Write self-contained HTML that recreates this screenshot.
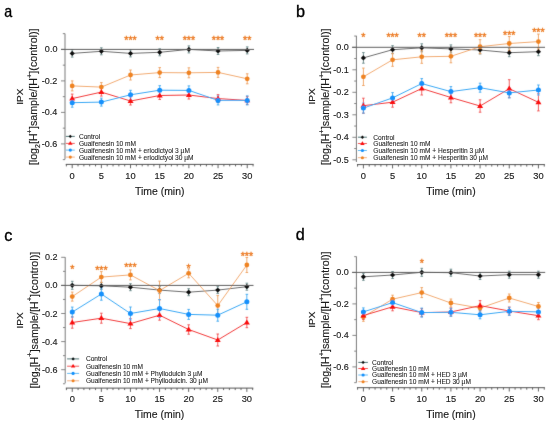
<!DOCTYPE html>
<html><head><meta charset="utf-8"><title>IPX</title>
<style>
html,body{margin:0;padding:0;background:#fff;}
body{width:550px;height:425px;overflow:hidden;}
svg{display:block;font-family:"Liberation Sans", sans-serif;}
#w{width:550px;height:425px;will-change:transform;}
.t{stroke:#1c1c1c;stroke-width:0.15px;}
</style></head><body><div id="w">
<svg width="550" height="425" viewBox="0 0 550 425">
<defs><filter id="bl" x="0" y="0" width="550" height="425" filterUnits="userSpaceOnUse"><feConvolveMatrix order="3" kernelMatrix="1 10 1 10 100 10 1 10 1" edgeMode="none"/></filter></defs>
<rect width="550" height="425" fill="#fff"/>
<g filter="url(#bl)">
<line x1="65" y1="33.6" x2="65" y2="159.4" stroke="#7a7a7a" stroke-width="1"/>
<line x1="62.8" y1="33.65" x2="65" y2="33.65" stroke="#7a7a7a" stroke-width="0.9"/>
<line x1="61" y1="49.4" x2="65" y2="49.4" stroke="#7a7a7a" stroke-width="0.9"/>
<line x1="62.8" y1="65.15" x2="65" y2="65.15" stroke="#7a7a7a" stroke-width="0.9"/>
<line x1="61" y1="80.9" x2="65" y2="80.9" stroke="#7a7a7a" stroke-width="0.9"/>
<line x1="62.8" y1="96.65" x2="65" y2="96.65" stroke="#7a7a7a" stroke-width="0.9"/>
<line x1="61" y1="112.4" x2="65" y2="112.4" stroke="#7a7a7a" stroke-width="0.9"/>
<line x1="62.8" y1="128.15" x2="65" y2="128.15" stroke="#7a7a7a" stroke-width="0.9"/>
<line x1="61" y1="143.9" x2="65" y2="143.9" stroke="#7a7a7a" stroke-width="0.9"/>
<line x1="62.8" y1="159.65" x2="65" y2="159.65" stroke="#7a7a7a" stroke-width="0.9"/>
<line x1="65.78" y1="164.4" x2="253.64" y2="164.4" stroke="#555555" stroke-width="1"/>
<line x1="66.37" y1="164.4" x2="66.37" y2="166.4" stroke="#555555" stroke-width="0.9"/>
<line x1="72.2" y1="164.4" x2="72.2" y2="168.2" stroke="#555555" stroke-width="0.9"/>
<line x1="78.03" y1="164.4" x2="78.03" y2="166.4" stroke="#555555" stroke-width="0.9"/>
<line x1="83.87" y1="164.4" x2="83.87" y2="166.4" stroke="#555555" stroke-width="0.9"/>
<line x1="89.7" y1="164.4" x2="89.7" y2="166.4" stroke="#555555" stroke-width="0.9"/>
<line x1="95.54" y1="164.4" x2="95.54" y2="166.4" stroke="#555555" stroke-width="0.9"/>
<line x1="101.37" y1="164.4" x2="101.37" y2="168.2" stroke="#555555" stroke-width="0.9"/>
<line x1="107.2" y1="164.4" x2="107.2" y2="166.4" stroke="#555555" stroke-width="0.9"/>
<line x1="113.04" y1="164.4" x2="113.04" y2="166.4" stroke="#555555" stroke-width="0.9"/>
<line x1="118.87" y1="164.4" x2="118.87" y2="166.4" stroke="#555555" stroke-width="0.9"/>
<line x1="124.71" y1="164.4" x2="124.71" y2="166.4" stroke="#555555" stroke-width="0.9"/>
<line x1="130.54" y1="164.4" x2="130.54" y2="168.2" stroke="#555555" stroke-width="0.9"/>
<line x1="136.37" y1="164.4" x2="136.37" y2="166.4" stroke="#555555" stroke-width="0.9"/>
<line x1="142.21" y1="164.4" x2="142.21" y2="166.4" stroke="#555555" stroke-width="0.9"/>
<line x1="148.04" y1="164.4" x2="148.04" y2="166.4" stroke="#555555" stroke-width="0.9"/>
<line x1="153.88" y1="164.4" x2="153.88" y2="166.4" stroke="#555555" stroke-width="0.9"/>
<line x1="159.71" y1="164.4" x2="159.71" y2="168.2" stroke="#555555" stroke-width="0.9"/>
<line x1="165.54" y1="164.4" x2="165.54" y2="166.4" stroke="#555555" stroke-width="0.9"/>
<line x1="171.38" y1="164.4" x2="171.38" y2="166.4" stroke="#555555" stroke-width="0.9"/>
<line x1="177.21" y1="164.4" x2="177.21" y2="166.4" stroke="#555555" stroke-width="0.9"/>
<line x1="183.05" y1="164.4" x2="183.05" y2="166.4" stroke="#555555" stroke-width="0.9"/>
<line x1="188.88" y1="164.4" x2="188.88" y2="168.2" stroke="#555555" stroke-width="0.9"/>
<line x1="194.71" y1="164.4" x2="194.71" y2="166.4" stroke="#555555" stroke-width="0.9"/>
<line x1="200.55" y1="164.4" x2="200.55" y2="166.4" stroke="#555555" stroke-width="0.9"/>
<line x1="206.38" y1="164.4" x2="206.38" y2="166.4" stroke="#555555" stroke-width="0.9"/>
<line x1="212.22" y1="164.4" x2="212.22" y2="166.4" stroke="#555555" stroke-width="0.9"/>
<line x1="218.05" y1="164.4" x2="218.05" y2="168.2" stroke="#555555" stroke-width="0.9"/>
<line x1="223.88" y1="164.4" x2="223.88" y2="166.4" stroke="#555555" stroke-width="0.9"/>
<line x1="229.72" y1="164.4" x2="229.72" y2="166.4" stroke="#555555" stroke-width="0.9"/>
<line x1="235.55" y1="164.4" x2="235.55" y2="166.4" stroke="#555555" stroke-width="0.9"/>
<line x1="241.39" y1="164.4" x2="241.39" y2="166.4" stroke="#555555" stroke-width="0.9"/>
<line x1="247.22" y1="164.4" x2="247.22" y2="168.2" stroke="#555555" stroke-width="0.9"/>
<line x1="253.05" y1="164.4" x2="253.05" y2="166.4" stroke="#555555" stroke-width="0.9"/>
<line x1="65.8" y1="136.4" x2="74.8" y2="136.4" stroke="#3e6868" stroke-width="0.9"/>
<path d="M70.3 134.71L71.99 136.4L70.3 138.09L68.61 136.4Z" fill="#111111"/>
<line x1="65.8" y1="143.4" x2="74.8" y2="143.4" stroke="#f04848" stroke-width="0.9"/>
<path d="M70.3 141.08L72.55 144.83L68.05 144.83Z" fill="#fa1010"/>
<line x1="65.8" y1="150.1" x2="74.8" y2="150.1" stroke="#55b4f2" stroke-width="0.9"/>
<circle cx="70.3" cy="150.1" r="1.62" fill="#1290fc"/>
<line x1="65.8" y1="157.1" x2="74.8" y2="157.1" stroke="#f0aa78" stroke-width="0.9"/>
<circle cx="70.3" cy="157.1" r="1.56" fill="#ef8322"/>
<polyline points="72.2,53.4 101.37,51.3 130.54,53.4 159.71,52.3 188.88,49.4 218.05,51 247.22,50.4" fill="none" stroke="#6e6e6e" stroke-width="1"/>
<polyline points="72.2,85.9 101.37,87.1 130.54,75 159.71,72.6 188.88,72.8 218.05,72.4 247.22,78.8" fill="none" stroke="#f2ac74" stroke-width="1"/>
<polyline points="72.2,98.6 101.37,92.1 130.54,101 159.71,95.5 188.88,95 218.05,98.6 247.22,100.4" fill="none" stroke="#f23a3a" stroke-width="1"/>
<polyline points="72.2,102.7 101.37,102.1 130.54,94.8 159.71,90.2 188.88,90.4 218.05,100.4 247.22,100.4" fill="none" stroke="#3aa8f5" stroke-width="1"/>
<path d="M72.2 49.7V57.1M70.9 49.7H73.5M70.9 57.1H73.5" stroke="#6a8a8a" stroke-width="0.9" fill="none"/>
<path d="M101.37 47.8V54.8M100.07 47.8H102.67M100.07 54.8H102.67" stroke="#6a8a8a" stroke-width="0.9" fill="none"/>
<path d="M130.54 49.9V56.9M129.24 49.9H131.84M129.24 56.9H131.84" stroke="#6a8a8a" stroke-width="0.9" fill="none"/>
<path d="M159.71 48.8V55.8M158.41 48.8H161.01M158.41 55.8H161.01" stroke="#6a8a8a" stroke-width="0.9" fill="none"/>
<path d="M188.88 45.9V52.9M187.58 45.9H190.18M187.58 52.9H190.18" stroke="#6a8a8a" stroke-width="0.9" fill="none"/>
<path d="M218.05 47.5V54.5M216.75 47.5H219.35M216.75 54.5H219.35" stroke="#6a8a8a" stroke-width="0.9" fill="none"/>
<path d="M247.22 46.9V53.9M245.92 46.9H248.52M245.92 53.9H248.52" stroke="#6a8a8a" stroke-width="0.9" fill="none"/>
<path d="M72.2 80.9V90.9M70.9 80.9H73.5M70.9 90.9H73.5" stroke="#eea060" stroke-width="0.9" fill="none"/>
<path d="M101.37 82.6V91.6M100.07 82.6H102.67M100.07 91.6H102.67" stroke="#eea060" stroke-width="0.9" fill="none"/>
<path d="M130.54 70V80M129.24 70H131.84M129.24 80H131.84" stroke="#eea060" stroke-width="0.9" fill="none"/>
<path d="M159.71 67.6V77.6M158.41 67.6H161.01M158.41 77.6H161.01" stroke="#eea060" stroke-width="0.9" fill="none"/>
<path d="M188.88 67.8V77.8M187.58 67.8H190.18M187.58 77.8H190.18" stroke="#eea060" stroke-width="0.9" fill="none"/>
<path d="M218.05 67.4V77.4M216.75 67.4H219.35M216.75 77.4H219.35" stroke="#eea060" stroke-width="0.9" fill="none"/>
<path d="M247.22 73.8V83.8M245.92 73.8H248.52M245.92 83.8H248.52" stroke="#eea060" stroke-width="0.9" fill="none"/>
<path d="M72.2 94.1V103.1M70.9 94.1H73.5M70.9 103.1H73.5" stroke="#f05050" stroke-width="0.9" fill="none"/>
<path d="M101.37 88.1V96.1M100.07 88.1H102.67M100.07 96.1H102.67" stroke="#f05050" stroke-width="0.9" fill="none"/>
<path d="M130.54 97V105M129.24 97H131.84M129.24 105H131.84" stroke="#f05050" stroke-width="0.9" fill="none"/>
<path d="M159.71 91.5V99.5M158.41 91.5H161.01M158.41 99.5H161.01" stroke="#f05050" stroke-width="0.9" fill="none"/>
<path d="M188.88 91V99M187.58 91H190.18M187.58 99H190.18" stroke="#f05050" stroke-width="0.9" fill="none"/>
<path d="M218.05 94.6V102.6M216.75 94.6H219.35M216.75 102.6H219.35" stroke="#f05050" stroke-width="0.9" fill="none"/>
<path d="M247.22 96.4V104.4M245.92 96.4H248.52M245.92 104.4H248.52" stroke="#f05050" stroke-width="0.9" fill="none"/>
<path d="M72.2 98.2V107.2M70.9 98.2H73.5M70.9 107.2H73.5" stroke="#40a8f0" stroke-width="0.9" fill="none"/>
<path d="M101.37 98.1V106.1M100.07 98.1H102.67M100.07 106.1H102.67" stroke="#40a8f0" stroke-width="0.9" fill="none"/>
<path d="M130.54 90.3V99.3M129.24 90.3H131.84M129.24 99.3H131.84" stroke="#40a8f0" stroke-width="0.9" fill="none"/>
<path d="M159.71 85.7V94.7M158.41 85.7H161.01M158.41 94.7H161.01" stroke="#40a8f0" stroke-width="0.9" fill="none"/>
<path d="M188.88 85.9V94.9M187.58 85.9H190.18M187.58 94.9H190.18" stroke="#40a8f0" stroke-width="0.9" fill="none"/>
<path d="M218.05 95.9V104.9M216.75 95.9H219.35M216.75 104.9H219.35" stroke="#40a8f0" stroke-width="0.9" fill="none"/>
<path d="M247.22 95.9V104.9M245.92 95.9H248.52M245.92 104.9H248.52" stroke="#40a8f0" stroke-width="0.9" fill="none"/>
<path d="M72.2 50.8L74.8 53.4L72.2 56L69.6 53.4Z" fill="#111111"/>
<path d="M101.37 48.7L103.97 51.3L101.37 53.9L98.77 51.3Z" fill="#111111"/>
<path d="M130.54 50.8L133.14 53.4L130.54 56L127.94 53.4Z" fill="#111111"/>
<path d="M159.71 49.7L162.31 52.3L159.71 54.9L157.11 52.3Z" fill="#111111"/>
<path d="M188.88 46.8L191.48 49.4L188.88 52L186.28 49.4Z" fill="#111111"/>
<path d="M218.05 48.4L220.65 51L218.05 53.6L215.45 51Z" fill="#111111"/>
<path d="M247.22 47.8L249.82 50.4L247.22 53L244.62 50.4Z" fill="#111111"/>
<circle cx="72.2" cy="85.9" r="2.4" fill="#ef8322"/>
<circle cx="101.37" cy="87.1" r="2.4" fill="#ef8322"/>
<circle cx="130.54" cy="75" r="2.4" fill="#ef8322"/>
<circle cx="159.71" cy="72.6" r="2.4" fill="#ef8322"/>
<circle cx="188.88" cy="72.8" r="2.4" fill="#ef8322"/>
<circle cx="218.05" cy="72.4" r="2.4" fill="#ef8322"/>
<circle cx="247.22" cy="78.8" r="2.4" fill="#ef8322"/>
<path d="M72.2 95.5L75.2 100.5L69.2 100.5Z" fill="#fa1010"/>
<path d="M101.37 89L104.37 94L98.37 94Z" fill="#fa1010"/>
<path d="M130.54 97.9L133.54 102.9L127.54 102.9Z" fill="#fa1010"/>
<path d="M159.71 92.4L162.71 97.4L156.71 97.4Z" fill="#fa1010"/>
<path d="M188.88 91.9L191.88 96.9L185.88 96.9Z" fill="#fa1010"/>
<path d="M218.05 95.5L221.05 100.5L215.05 100.5Z" fill="#fa1010"/>
<path d="M247.22 97.3L250.22 102.3L244.22 102.3Z" fill="#fa1010"/>
<circle cx="72.2" cy="102.7" r="2.5" fill="#1290fc"/>
<circle cx="101.37" cy="102.1" r="2.5" fill="#1290fc"/>
<circle cx="130.54" cy="94.8" r="2.5" fill="#1290fc"/>
<circle cx="159.71" cy="90.2" r="2.5" fill="#1290fc"/>
<circle cx="188.88" cy="90.4" r="2.5" fill="#1290fc"/>
<circle cx="218.05" cy="100.4" r="2.5" fill="#1290fc"/>
<circle cx="247.22" cy="100.4" r="2.5" fill="#1290fc"/>
<line x1="61" y1="49.4" x2="254" y2="49.4" stroke="#5e5e5e" stroke-width="1"/>
<text x="130.54" y="44.1" font-size="10.6" fill="#ec7a22" stroke="#ec7a22" stroke-width="0.35" text-anchor="middle">***</text>
<text x="159.71" y="44.1" font-size="10.6" fill="#ec7a22" stroke="#ec7a22" stroke-width="0.35" text-anchor="middle">**</text>
<text x="188.88" y="44.1" font-size="10.6" fill="#ec7a22" stroke="#ec7a22" stroke-width="0.35" text-anchor="middle">***</text>
<text x="218.05" y="44.1" font-size="10.6" fill="#ec7a22" stroke="#ec7a22" stroke-width="0.35" text-anchor="middle">***</text>
<text x="247.22" y="44.1" font-size="10.6" fill="#ec7a22" stroke="#ec7a22" stroke-width="0.35" text-anchor="middle">**</text>
<line x1="356.4" y1="35.8" x2="356.4" y2="162" stroke="#7a7a7a" stroke-width="1"/>
<line x1="354.2" y1="36.05" x2="356.4" y2="36.05" stroke="#7a7a7a" stroke-width="0.9"/>
<line x1="352.4" y1="47.3" x2="356.4" y2="47.3" stroke="#7a7a7a" stroke-width="0.9"/>
<line x1="354.2" y1="58.55" x2="356.4" y2="58.55" stroke="#7a7a7a" stroke-width="0.9"/>
<line x1="352.4" y1="69.8" x2="356.4" y2="69.8" stroke="#7a7a7a" stroke-width="0.9"/>
<line x1="354.2" y1="81.05" x2="356.4" y2="81.05" stroke="#7a7a7a" stroke-width="0.9"/>
<line x1="352.4" y1="92.3" x2="356.4" y2="92.3" stroke="#7a7a7a" stroke-width="0.9"/>
<line x1="354.2" y1="103.55" x2="356.4" y2="103.55" stroke="#7a7a7a" stroke-width="0.9"/>
<line x1="352.4" y1="114.8" x2="356.4" y2="114.8" stroke="#7a7a7a" stroke-width="0.9"/>
<line x1="354.2" y1="126.05" x2="356.4" y2="126.05" stroke="#7a7a7a" stroke-width="0.9"/>
<line x1="352.4" y1="137.3" x2="356.4" y2="137.3" stroke="#7a7a7a" stroke-width="0.9"/>
<line x1="354.2" y1="148.55" x2="356.4" y2="148.55" stroke="#7a7a7a" stroke-width="0.9"/>
<line x1="352.4" y1="159.8" x2="356.4" y2="159.8" stroke="#7a7a7a" stroke-width="0.9"/>
<line x1="356.98" y1="164.6" x2="544.84" y2="164.6" stroke="#555555" stroke-width="1"/>
<line x1="357.57" y1="164.6" x2="357.57" y2="166.6" stroke="#555555" stroke-width="0.9"/>
<line x1="363.4" y1="164.6" x2="363.4" y2="168.4" stroke="#555555" stroke-width="0.9"/>
<line x1="369.23" y1="164.6" x2="369.23" y2="166.6" stroke="#555555" stroke-width="0.9"/>
<line x1="375.07" y1="164.6" x2="375.07" y2="166.6" stroke="#555555" stroke-width="0.9"/>
<line x1="380.9" y1="164.6" x2="380.9" y2="166.6" stroke="#555555" stroke-width="0.9"/>
<line x1="386.74" y1="164.6" x2="386.74" y2="166.6" stroke="#555555" stroke-width="0.9"/>
<line x1="392.57" y1="164.6" x2="392.57" y2="168.4" stroke="#555555" stroke-width="0.9"/>
<line x1="398.4" y1="164.6" x2="398.4" y2="166.6" stroke="#555555" stroke-width="0.9"/>
<line x1="404.24" y1="164.6" x2="404.24" y2="166.6" stroke="#555555" stroke-width="0.9"/>
<line x1="410.07" y1="164.6" x2="410.07" y2="166.6" stroke="#555555" stroke-width="0.9"/>
<line x1="415.91" y1="164.6" x2="415.91" y2="166.6" stroke="#555555" stroke-width="0.9"/>
<line x1="421.74" y1="164.6" x2="421.74" y2="168.4" stroke="#555555" stroke-width="0.9"/>
<line x1="427.57" y1="164.6" x2="427.57" y2="166.6" stroke="#555555" stroke-width="0.9"/>
<line x1="433.41" y1="164.6" x2="433.41" y2="166.6" stroke="#555555" stroke-width="0.9"/>
<line x1="439.24" y1="164.6" x2="439.24" y2="166.6" stroke="#555555" stroke-width="0.9"/>
<line x1="445.08" y1="164.6" x2="445.08" y2="166.6" stroke="#555555" stroke-width="0.9"/>
<line x1="450.91" y1="164.6" x2="450.91" y2="168.4" stroke="#555555" stroke-width="0.9"/>
<line x1="456.74" y1="164.6" x2="456.74" y2="166.6" stroke="#555555" stroke-width="0.9"/>
<line x1="462.58" y1="164.6" x2="462.58" y2="166.6" stroke="#555555" stroke-width="0.9"/>
<line x1="468.41" y1="164.6" x2="468.41" y2="166.6" stroke="#555555" stroke-width="0.9"/>
<line x1="474.25" y1="164.6" x2="474.25" y2="166.6" stroke="#555555" stroke-width="0.9"/>
<line x1="480.08" y1="164.6" x2="480.08" y2="168.4" stroke="#555555" stroke-width="0.9"/>
<line x1="485.91" y1="164.6" x2="485.91" y2="166.6" stroke="#555555" stroke-width="0.9"/>
<line x1="491.75" y1="164.6" x2="491.75" y2="166.6" stroke="#555555" stroke-width="0.9"/>
<line x1="497.58" y1="164.6" x2="497.58" y2="166.6" stroke="#555555" stroke-width="0.9"/>
<line x1="503.42" y1="164.6" x2="503.42" y2="166.6" stroke="#555555" stroke-width="0.9"/>
<line x1="509.25" y1="164.6" x2="509.25" y2="168.4" stroke="#555555" stroke-width="0.9"/>
<line x1="515.08" y1="164.6" x2="515.08" y2="166.6" stroke="#555555" stroke-width="0.9"/>
<line x1="520.92" y1="164.6" x2="520.92" y2="166.6" stroke="#555555" stroke-width="0.9"/>
<line x1="526.75" y1="164.6" x2="526.75" y2="166.6" stroke="#555555" stroke-width="0.9"/>
<line x1="532.59" y1="164.6" x2="532.59" y2="166.6" stroke="#555555" stroke-width="0.9"/>
<line x1="538.42" y1="164.6" x2="538.42" y2="168.4" stroke="#555555" stroke-width="0.9"/>
<line x1="544.25" y1="164.6" x2="544.25" y2="166.6" stroke="#555555" stroke-width="0.9"/>
<line x1="357.9" y1="137.2" x2="366.9" y2="137.2" stroke="#3e6868" stroke-width="0.9"/>
<path d="M362.4 135.51L364.09 137.2L362.4 138.89L360.71 137.2Z" fill="#111111"/>
<line x1="357.9" y1="143.5" x2="366.9" y2="143.5" stroke="#f04848" stroke-width="0.9"/>
<path d="M362.4 141.18L364.65 144.93L360.15 144.93Z" fill="#fa1010"/>
<line x1="357.9" y1="150.5" x2="366.9" y2="150.5" stroke="#55b4f2" stroke-width="0.9"/>
<circle cx="362.4" cy="150.5" r="1.62" fill="#1290fc"/>
<line x1="357.9" y1="157.7" x2="366.9" y2="157.7" stroke="#f0aa78" stroke-width="0.9"/>
<circle cx="362.4" cy="157.7" r="1.56" fill="#ef8322"/>
<polyline points="363.4,57.9 392.57,49.7 421.74,47.8 450.91,48.9 480.08,50 509.25,52.7 538.42,51.7" fill="none" stroke="#6e6e6e" stroke-width="1"/>
<polyline points="363.4,76.8 392.57,59.8 421.74,56.8 450.91,56.3 480.08,46.7 509.25,43.5 538.42,41.6" fill="none" stroke="#f2ac74" stroke-width="1"/>
<polyline points="363.4,105.7 392.57,102.2 421.74,88.5 450.91,97.5 480.08,106 509.25,88.7 538.42,102.3" fill="none" stroke="#f23a3a" stroke-width="1"/>
<polyline points="363.4,108.1 392.57,97.9 421.74,83.6 450.91,91.6 480.08,87.7 509.25,92.9 538.42,90" fill="none" stroke="#3aa8f5" stroke-width="1"/>
<path d="M363.4 52.6V63.2M362.1 52.6H364.7M362.1 63.2H364.7" stroke="#6a8a8a" stroke-width="0.9" fill="none"/>
<path d="M392.57 45.7V53.7M391.27 45.7H393.87M391.27 53.7H393.87" stroke="#6a8a8a" stroke-width="0.9" fill="none"/>
<path d="M421.74 43.8V51.8M420.44 43.8H423.04M420.44 51.8H423.04" stroke="#6a8a8a" stroke-width="0.9" fill="none"/>
<path d="M450.91 44.9V52.9M449.61 44.9H452.21M449.61 52.9H452.21" stroke="#6a8a8a" stroke-width="0.9" fill="none"/>
<path d="M480.08 46V54M478.78 46H481.38M478.78 54H481.38" stroke="#6a8a8a" stroke-width="0.9" fill="none"/>
<path d="M509.25 48.7V56.7M507.95 48.7H510.55M507.95 56.7H510.55" stroke="#6a8a8a" stroke-width="0.9" fill="none"/>
<path d="M538.42 47.7V55.7M537.12 47.7H539.72M537.12 55.7H539.72" stroke="#6a8a8a" stroke-width="0.9" fill="none"/>
<path d="M363.4 68.1V85.5M362.1 68.1H364.7M362.1 85.5H364.7" stroke="#eea060" stroke-width="0.9" fill="none"/>
<path d="M392.57 53.3V66.3M391.27 53.3H393.87M391.27 66.3H393.87" stroke="#eea060" stroke-width="0.9" fill="none"/>
<path d="M421.74 50.3V63.3M420.44 50.3H423.04M420.44 63.3H423.04" stroke="#eea060" stroke-width="0.9" fill="none"/>
<path d="M450.91 49.8V62.8M449.61 49.8H452.21M449.61 62.8H452.21" stroke="#eea060" stroke-width="0.9" fill="none"/>
<path d="M480.08 39.7V53.7M478.78 39.7H481.38M478.78 53.7H481.38" stroke="#eea060" stroke-width="0.9" fill="none"/>
<path d="M509.25 36.5V50.5M507.95 36.5H510.55M507.95 50.5H510.55" stroke="#eea060" stroke-width="0.9" fill="none"/>
<path d="M538.42 34.1V49.1M537.12 34.1H539.72M537.12 49.1H539.72" stroke="#eea060" stroke-width="0.9" fill="none"/>
<path d="M363.4 98.2V113.2M362.1 98.2H364.7M362.1 113.2H364.7" stroke="#f05050" stroke-width="0.9" fill="none"/>
<path d="M392.57 97.2V107.2M391.27 97.2H393.87M391.27 107.2H393.87" stroke="#f05050" stroke-width="0.9" fill="none"/>
<path d="M421.74 82V95M420.44 82H423.04M420.44 95H423.04" stroke="#f05050" stroke-width="0.9" fill="none"/>
<path d="M450.91 92.2V102.8M449.61 92.2H452.21M449.61 102.8H452.21" stroke="#f05050" stroke-width="0.9" fill="none"/>
<path d="M480.08 99.8V112.2M478.78 99.8H481.38M478.78 112.2H481.38" stroke="#f05050" stroke-width="0.9" fill="none"/>
<path d="M509.25 79.7V97.7M507.95 79.7H510.55M507.95 97.7H510.55" stroke="#f05050" stroke-width="0.9" fill="none"/>
<path d="M538.42 93.7V110.9M537.12 93.7H539.72M537.12 110.9H539.72" stroke="#f05050" stroke-width="0.9" fill="none"/>
<path d="M363.4 103.1V113.1M362.1 103.1H364.7M362.1 113.1H364.7" stroke="#40a8f0" stroke-width="0.9" fill="none"/>
<path d="M392.57 92.6V103.2M391.27 92.6H393.87M391.27 103.2H393.87" stroke="#40a8f0" stroke-width="0.9" fill="none"/>
<path d="M421.74 78.6V88.6M420.44 78.6H423.04M420.44 88.6H423.04" stroke="#40a8f0" stroke-width="0.9" fill="none"/>
<path d="M450.91 86.6V96.6M449.61 86.6H452.21M449.61 96.6H452.21" stroke="#40a8f0" stroke-width="0.9" fill="none"/>
<path d="M480.08 83.2V92.2M478.78 83.2H481.38M478.78 92.2H481.38" stroke="#40a8f0" stroke-width="0.9" fill="none"/>
<path d="M509.25 87.9V97.9M507.95 87.9H510.55M507.95 97.9H510.55" stroke="#40a8f0" stroke-width="0.9" fill="none"/>
<path d="M538.42 85V95M537.12 85H539.72M537.12 95H539.72" stroke="#40a8f0" stroke-width="0.9" fill="none"/>
<path d="M363.4 55.3L366 57.9L363.4 60.5L360.8 57.9Z" fill="#111111"/>
<path d="M392.57 47.1L395.17 49.7L392.57 52.3L389.97 49.7Z" fill="#111111"/>
<path d="M421.74 45.2L424.34 47.8L421.74 50.4L419.14 47.8Z" fill="#111111"/>
<path d="M450.91 46.3L453.51 48.9L450.91 51.5L448.31 48.9Z" fill="#111111"/>
<path d="M480.08 47.4L482.68 50L480.08 52.6L477.48 50Z" fill="#111111"/>
<path d="M509.25 50.1L511.85 52.7L509.25 55.3L506.65 52.7Z" fill="#111111"/>
<path d="M538.42 49.1L541.02 51.7L538.42 54.3L535.82 51.7Z" fill="#111111"/>
<circle cx="363.4" cy="76.8" r="2.4" fill="#ef8322"/>
<circle cx="392.57" cy="59.8" r="2.4" fill="#ef8322"/>
<circle cx="421.74" cy="56.8" r="2.4" fill="#ef8322"/>
<circle cx="450.91" cy="56.3" r="2.4" fill="#ef8322"/>
<circle cx="480.08" cy="46.7" r="2.4" fill="#ef8322"/>
<circle cx="509.25" cy="43.5" r="2.4" fill="#ef8322"/>
<circle cx="538.42" cy="41.6" r="2.4" fill="#ef8322"/>
<path d="M363.4 102.6L366.4 107.6L360.4 107.6Z" fill="#fa1010"/>
<path d="M392.57 99.1L395.57 104.1L389.57 104.1Z" fill="#fa1010"/>
<path d="M421.74 85.4L424.74 90.4L418.74 90.4Z" fill="#fa1010"/>
<path d="M450.91 94.4L453.91 99.4L447.91 99.4Z" fill="#fa1010"/>
<path d="M480.08 102.9L483.08 107.9L477.08 107.9Z" fill="#fa1010"/>
<path d="M509.25 85.6L512.25 90.6L506.25 90.6Z" fill="#fa1010"/>
<path d="M538.42 99.2L541.42 104.2L535.42 104.2Z" fill="#fa1010"/>
<circle cx="363.4" cy="108.1" r="2.5" fill="#1290fc"/>
<circle cx="392.57" cy="97.9" r="2.5" fill="#1290fc"/>
<circle cx="421.74" cy="83.6" r="2.5" fill="#1290fc"/>
<circle cx="450.91" cy="91.6" r="2.5" fill="#1290fc"/>
<circle cx="480.08" cy="87.7" r="2.5" fill="#1290fc"/>
<circle cx="509.25" cy="92.9" r="2.5" fill="#1290fc"/>
<circle cx="538.42" cy="90" r="2.5" fill="#1290fc"/>
<line x1="352" y1="47.3" x2="545" y2="47.3" stroke="#5e5e5e" stroke-width="1"/>
<text x="363.4" y="40.7" font-size="10.6" fill="#ec7a22" stroke="#ec7a22" stroke-width="0.35" text-anchor="middle">*</text>
<text x="392.57" y="40.7" font-size="10.6" fill="#ec7a22" stroke="#ec7a22" stroke-width="0.35" text-anchor="middle">***</text>
<text x="421.74" y="40.7" font-size="10.6" fill="#ec7a22" stroke="#ec7a22" stroke-width="0.35" text-anchor="middle">**</text>
<text x="450.91" y="40.7" font-size="10.6" fill="#ec7a22" stroke="#ec7a22" stroke-width="0.35" text-anchor="middle">***</text>
<text x="480.08" y="40.7" font-size="10.6" fill="#ec7a22" stroke="#ec7a22" stroke-width="0.35" text-anchor="middle">***</text>
<text x="509.25" y="39.1" font-size="10.6" fill="#ec7a22" stroke="#ec7a22" stroke-width="0.35" text-anchor="middle">***</text>
<text x="538.42" y="36.3" font-size="10.6" fill="#ec7a22" stroke="#ec7a22" stroke-width="0.35" text-anchor="middle">***</text>
<line x1="65.2" y1="257.2" x2="65.2" y2="383.2" stroke="#7a7a7a" stroke-width="1"/>
<line x1="61.2" y1="257.3" x2="65.2" y2="257.3" stroke="#7a7a7a" stroke-width="0.9"/>
<line x1="63" y1="271.35" x2="65.2" y2="271.35" stroke="#7a7a7a" stroke-width="0.9"/>
<line x1="61.2" y1="285.4" x2="65.2" y2="285.4" stroke="#7a7a7a" stroke-width="0.9"/>
<line x1="63" y1="299.45" x2="65.2" y2="299.45" stroke="#7a7a7a" stroke-width="0.9"/>
<line x1="61.2" y1="313.5" x2="65.2" y2="313.5" stroke="#7a7a7a" stroke-width="0.9"/>
<line x1="63" y1="327.55" x2="65.2" y2="327.55" stroke="#7a7a7a" stroke-width="0.9"/>
<line x1="61.2" y1="341.6" x2="65.2" y2="341.6" stroke="#7a7a7a" stroke-width="0.9"/>
<line x1="63" y1="355.65" x2="65.2" y2="355.65" stroke="#7a7a7a" stroke-width="0.9"/>
<line x1="61.2" y1="369.7" x2="65.2" y2="369.7" stroke="#7a7a7a" stroke-width="0.9"/>
<line x1="63" y1="383.75" x2="65.2" y2="383.75" stroke="#7a7a7a" stroke-width="0.9"/>
<line x1="65.85" y1="388.1" x2="253.25" y2="388.1" stroke="#555555" stroke-width="1"/>
<line x1="66.43" y1="388.1" x2="66.43" y2="390.1" stroke="#555555" stroke-width="0.9"/>
<line x1="72.25" y1="388.1" x2="72.25" y2="391.9" stroke="#555555" stroke-width="0.9"/>
<line x1="78.07" y1="388.1" x2="78.07" y2="390.1" stroke="#555555" stroke-width="0.9"/>
<line x1="83.89" y1="388.1" x2="83.89" y2="390.1" stroke="#555555" stroke-width="0.9"/>
<line x1="89.71" y1="388.1" x2="89.71" y2="390.1" stroke="#555555" stroke-width="0.9"/>
<line x1="95.53" y1="388.1" x2="95.53" y2="390.1" stroke="#555555" stroke-width="0.9"/>
<line x1="101.35" y1="388.1" x2="101.35" y2="391.9" stroke="#555555" stroke-width="0.9"/>
<line x1="107.17" y1="388.1" x2="107.17" y2="390.1" stroke="#555555" stroke-width="0.9"/>
<line x1="112.99" y1="388.1" x2="112.99" y2="390.1" stroke="#555555" stroke-width="0.9"/>
<line x1="118.81" y1="388.1" x2="118.81" y2="390.1" stroke="#555555" stroke-width="0.9"/>
<line x1="124.63" y1="388.1" x2="124.63" y2="390.1" stroke="#555555" stroke-width="0.9"/>
<line x1="130.45" y1="388.1" x2="130.45" y2="391.9" stroke="#555555" stroke-width="0.9"/>
<line x1="136.27" y1="388.1" x2="136.27" y2="390.1" stroke="#555555" stroke-width="0.9"/>
<line x1="142.09" y1="388.1" x2="142.09" y2="390.1" stroke="#555555" stroke-width="0.9"/>
<line x1="147.91" y1="388.1" x2="147.91" y2="390.1" stroke="#555555" stroke-width="0.9"/>
<line x1="153.73" y1="388.1" x2="153.73" y2="390.1" stroke="#555555" stroke-width="0.9"/>
<line x1="159.55" y1="388.1" x2="159.55" y2="391.9" stroke="#555555" stroke-width="0.9"/>
<line x1="165.37" y1="388.1" x2="165.37" y2="390.1" stroke="#555555" stroke-width="0.9"/>
<line x1="171.19" y1="388.1" x2="171.19" y2="390.1" stroke="#555555" stroke-width="0.9"/>
<line x1="177.01" y1="388.1" x2="177.01" y2="390.1" stroke="#555555" stroke-width="0.9"/>
<line x1="182.83" y1="388.1" x2="182.83" y2="390.1" stroke="#555555" stroke-width="0.9"/>
<line x1="188.65" y1="388.1" x2="188.65" y2="391.9" stroke="#555555" stroke-width="0.9"/>
<line x1="194.47" y1="388.1" x2="194.47" y2="390.1" stroke="#555555" stroke-width="0.9"/>
<line x1="200.29" y1="388.1" x2="200.29" y2="390.1" stroke="#555555" stroke-width="0.9"/>
<line x1="206.11" y1="388.1" x2="206.11" y2="390.1" stroke="#555555" stroke-width="0.9"/>
<line x1="211.93" y1="388.1" x2="211.93" y2="390.1" stroke="#555555" stroke-width="0.9"/>
<line x1="217.75" y1="388.1" x2="217.75" y2="391.9" stroke="#555555" stroke-width="0.9"/>
<line x1="223.57" y1="388.1" x2="223.57" y2="390.1" stroke="#555555" stroke-width="0.9"/>
<line x1="229.39" y1="388.1" x2="229.39" y2="390.1" stroke="#555555" stroke-width="0.9"/>
<line x1="235.21" y1="388.1" x2="235.21" y2="390.1" stroke="#555555" stroke-width="0.9"/>
<line x1="241.03" y1="388.1" x2="241.03" y2="390.1" stroke="#555555" stroke-width="0.9"/>
<line x1="246.85" y1="388.1" x2="246.85" y2="391.9" stroke="#555555" stroke-width="0.9"/>
<line x1="252.67" y1="388.1" x2="252.67" y2="390.1" stroke="#555555" stroke-width="0.9"/>
<line x1="67.1" y1="358.9" x2="79.1" y2="358.9" stroke="#3e6868" stroke-width="0.9"/>
<path d="M73.1 357.21L74.79 358.9L73.1 360.59L71.41 358.9Z" fill="#111111"/>
<line x1="67.1" y1="366.2" x2="79.1" y2="366.2" stroke="#f04848" stroke-width="0.9"/>
<path d="M73.1 363.88L75.35 367.62L70.85 367.62Z" fill="#fa1010"/>
<line x1="67.1" y1="373.4" x2="79.1" y2="373.4" stroke="#55b4f2" stroke-width="0.9"/>
<circle cx="73.1" cy="373.4" r="1.62" fill="#1290fc"/>
<line x1="67.1" y1="380.8" x2="79.1" y2="380.8" stroke="#f0aa78" stroke-width="0.9"/>
<circle cx="73.1" cy="380.8" r="1.56" fill="#ef8322"/>
<polyline points="72.25,285.3 101.35,285.8 130.45,287.2 159.55,290.1 188.65,292.2 217.75,290.1 246.85,286.7" fill="none" stroke="#6e6e6e" stroke-width="1"/>
<polyline points="72.25,296.6 101.35,277.1 130.45,274.9 159.55,290.6 188.65,273.3 217.75,305.6 246.85,265" fill="none" stroke="#f2ac74" stroke-width="1"/>
<polyline points="72.25,322.5 101.35,318.2 130.45,323.6 159.55,315.2 188.65,329.5 217.75,340 246.85,322.5" fill="none" stroke="#f23a3a" stroke-width="1"/>
<polyline points="72.25,312.1 101.35,294 130.45,313.5 159.55,308.5 188.65,314.4 217.75,315.2 246.85,301.8" fill="none" stroke="#3aa8f5" stroke-width="1"/>
<path d="M72.25 281.3V289.3M70.95 281.3H73.55M70.95 289.3H73.55" stroke="#6a8a8a" stroke-width="0.9" fill="none"/>
<path d="M101.35 282.3V289.3M100.05 282.3H102.65M100.05 289.3H102.65" stroke="#6a8a8a" stroke-width="0.9" fill="none"/>
<path d="M130.45 283.7V290.7M129.15 283.7H131.75M129.15 290.7H131.75" stroke="#6a8a8a" stroke-width="0.9" fill="none"/>
<path d="M159.55 286.6V293.6M158.25 286.6H160.85M158.25 293.6H160.85" stroke="#6a8a8a" stroke-width="0.9" fill="none"/>
<path d="M188.65 288.7V295.7M187.35 288.7H189.95M187.35 295.7H189.95" stroke="#6a8a8a" stroke-width="0.9" fill="none"/>
<path d="M217.75 286.6V293.6M216.45 286.6H219.05M216.45 293.6H219.05" stroke="#6a8a8a" stroke-width="0.9" fill="none"/>
<path d="M246.85 283.2V290.2M245.55 283.2H248.15M245.55 290.2H248.15" stroke="#6a8a8a" stroke-width="0.9" fill="none"/>
<path d="M72.25 292.1V301.1M70.95 292.1H73.55M70.95 301.1H73.55" stroke="#eea060" stroke-width="0.9" fill="none"/>
<path d="M101.35 271.6V282.6M100.05 271.6H102.65M100.05 282.6H102.65" stroke="#eea060" stroke-width="0.9" fill="none"/>
<path d="M130.45 269.9V279.9M129.15 269.9H131.75M129.15 279.9H131.75" stroke="#eea060" stroke-width="0.9" fill="none"/>
<path d="M159.55 281.1V300.1M158.25 281.1H160.85M158.25 300.1H160.85" stroke="#eea060" stroke-width="0.9" fill="none"/>
<path d="M188.65 268.8V277.8M187.35 268.8H189.95M187.35 277.8H189.95" stroke="#eea060" stroke-width="0.9" fill="none"/>
<path d="M217.75 295.6V315.6M216.45 295.6H219.05M216.45 315.6H219.05" stroke="#eea060" stroke-width="0.9" fill="none"/>
<path d="M246.85 257.5V272.5M245.55 257.5H248.15M245.55 272.5H248.15" stroke="#eea060" stroke-width="0.9" fill="none"/>
<path d="M72.25 316.8V328.2M70.95 316.8H73.55M70.95 328.2H73.55" stroke="#f05050" stroke-width="0.9" fill="none"/>
<path d="M101.35 313.2V323.2M100.05 313.2H102.65M100.05 323.2H102.65" stroke="#f05050" stroke-width="0.9" fill="none"/>
<path d="M130.45 318.6V328.6M129.15 318.6H131.75M129.15 328.6H131.75" stroke="#f05050" stroke-width="0.9" fill="none"/>
<path d="M159.55 310.2V320.2M158.25 310.2H160.85M158.25 320.2H160.85" stroke="#f05050" stroke-width="0.9" fill="none"/>
<path d="M188.65 324.8V334.2M187.35 324.8H189.95M187.35 334.2H189.95" stroke="#f05050" stroke-width="0.9" fill="none"/>
<path d="M217.75 334V346M216.45 334H219.05M216.45 346H219.05" stroke="#f05050" stroke-width="0.9" fill="none"/>
<path d="M246.85 317.3V327.7M245.55 317.3H248.15M245.55 327.7H248.15" stroke="#f05050" stroke-width="0.9" fill="none"/>
<path d="M72.25 307.1V317.1M70.95 307.1H73.55M70.95 317.1H73.55" stroke="#40a8f0" stroke-width="0.9" fill="none"/>
<path d="M101.35 287.8V300.2M100.05 287.8H102.65M100.05 300.2H102.65" stroke="#40a8f0" stroke-width="0.9" fill="none"/>
<path d="M130.45 307V320M129.15 307H131.75M129.15 320H131.75" stroke="#40a8f0" stroke-width="0.9" fill="none"/>
<path d="M159.55 299.5V317.5M158.25 299.5H160.85M158.25 317.5H160.85" stroke="#40a8f0" stroke-width="0.9" fill="none"/>
<path d="M188.65 309.4V319.4M187.35 309.4H189.95M187.35 319.4H189.95" stroke="#40a8f0" stroke-width="0.9" fill="none"/>
<path d="M217.75 309.2V321.2M216.45 309.2H219.05M216.45 321.2H219.05" stroke="#40a8f0" stroke-width="0.9" fill="none"/>
<path d="M246.85 294.3V309.3M245.55 294.3H248.15M245.55 309.3H248.15" stroke="#40a8f0" stroke-width="0.9" fill="none"/>
<path d="M72.25 282.7L74.85 285.3L72.25 287.9L69.65 285.3Z" fill="#111111"/>
<path d="M101.35 283.2L103.95 285.8L101.35 288.4L98.75 285.8Z" fill="#111111"/>
<path d="M130.45 284.6L133.05 287.2L130.45 289.8L127.85 287.2Z" fill="#111111"/>
<path d="M159.55 287.5L162.15 290.1L159.55 292.7L156.95 290.1Z" fill="#111111"/>
<path d="M188.65 289.6L191.25 292.2L188.65 294.8L186.05 292.2Z" fill="#111111"/>
<path d="M217.75 287.5L220.35 290.1L217.75 292.7L215.15 290.1Z" fill="#111111"/>
<path d="M246.85 284.1L249.45 286.7L246.85 289.3L244.25 286.7Z" fill="#111111"/>
<circle cx="72.25" cy="296.6" r="2.4" fill="#ef8322"/>
<circle cx="101.35" cy="277.1" r="2.4" fill="#ef8322"/>
<circle cx="130.45" cy="274.9" r="2.4" fill="#ef8322"/>
<circle cx="159.55" cy="290.6" r="2.4" fill="#ef8322"/>
<circle cx="188.65" cy="273.3" r="2.4" fill="#ef8322"/>
<circle cx="217.75" cy="305.6" r="2.4" fill="#ef8322"/>
<circle cx="246.85" cy="265" r="2.4" fill="#ef8322"/>
<path d="M72.25 319.4L75.25 324.4L69.25 324.4Z" fill="#fa1010"/>
<path d="M101.35 315.1L104.35 320.1L98.35 320.1Z" fill="#fa1010"/>
<path d="M130.45 320.5L133.45 325.5L127.45 325.5Z" fill="#fa1010"/>
<path d="M159.55 312.1L162.55 317.1L156.55 317.1Z" fill="#fa1010"/>
<path d="M188.65 326.4L191.65 331.4L185.65 331.4Z" fill="#fa1010"/>
<path d="M217.75 336.9L220.75 341.9L214.75 341.9Z" fill="#fa1010"/>
<path d="M246.85 319.4L249.85 324.4L243.85 324.4Z" fill="#fa1010"/>
<circle cx="72.25" cy="312.1" r="2.5" fill="#1290fc"/>
<circle cx="101.35" cy="294" r="2.5" fill="#1290fc"/>
<circle cx="130.45" cy="313.5" r="2.5" fill="#1290fc"/>
<circle cx="159.55" cy="308.5" r="2.5" fill="#1290fc"/>
<circle cx="188.65" cy="314.4" r="2.5" fill="#1290fc"/>
<circle cx="217.75" cy="315.2" r="2.5" fill="#1290fc"/>
<circle cx="246.85" cy="301.8" r="2.5" fill="#1290fc"/>
<line x1="61" y1="285.4" x2="253.5" y2="285.4" stroke="#5e5e5e" stroke-width="1"/>
<text x="72.25" y="273.1" font-size="10.6" fill="#ec7a22" stroke="#ec7a22" stroke-width="0.35" text-anchor="middle">*</text>
<text x="101.35" y="274.1" font-size="10.6" fill="#ec7a22" stroke="#ec7a22" stroke-width="0.35" text-anchor="middle">***</text>
<text x="130.45" y="271.4" font-size="10.6" fill="#ec7a22" stroke="#ec7a22" stroke-width="0.35" text-anchor="middle">***</text>
<text x="188.65" y="272.1" font-size="10.6" fill="#ec7a22" stroke="#ec7a22" stroke-width="0.35" text-anchor="middle">*</text>
<text x="246.85" y="260" font-size="10.6" fill="#ec7a22" stroke="#ec7a22" stroke-width="0.35" text-anchor="middle">***</text>
<line x1="356.4" y1="256.5" x2="356.4" y2="382.6" stroke="#7a7a7a" stroke-width="1"/>
<line x1="354.2" y1="256.65" x2="356.4" y2="256.65" stroke="#7a7a7a" stroke-width="0.9"/>
<line x1="352.4" y1="272.4" x2="356.4" y2="272.4" stroke="#7a7a7a" stroke-width="0.9"/>
<line x1="354.2" y1="288.15" x2="356.4" y2="288.15" stroke="#7a7a7a" stroke-width="0.9"/>
<line x1="352.4" y1="303.9" x2="356.4" y2="303.9" stroke="#7a7a7a" stroke-width="0.9"/>
<line x1="354.2" y1="319.65" x2="356.4" y2="319.65" stroke="#7a7a7a" stroke-width="0.9"/>
<line x1="352.4" y1="335.4" x2="356.4" y2="335.4" stroke="#7a7a7a" stroke-width="0.9"/>
<line x1="354.2" y1="351.15" x2="356.4" y2="351.15" stroke="#7a7a7a" stroke-width="0.9"/>
<line x1="352.4" y1="366.9" x2="356.4" y2="366.9" stroke="#7a7a7a" stroke-width="0.9"/>
<line x1="354.2" y1="382.65" x2="356.4" y2="382.65" stroke="#7a7a7a" stroke-width="0.9"/>
<line x1="356.98" y1="387.7" x2="544.84" y2="387.7" stroke="#555555" stroke-width="1"/>
<line x1="357.57" y1="387.7" x2="357.57" y2="389.7" stroke="#555555" stroke-width="0.9"/>
<line x1="363.4" y1="387.7" x2="363.4" y2="391.5" stroke="#555555" stroke-width="0.9"/>
<line x1="369.23" y1="387.7" x2="369.23" y2="389.7" stroke="#555555" stroke-width="0.9"/>
<line x1="375.07" y1="387.7" x2="375.07" y2="389.7" stroke="#555555" stroke-width="0.9"/>
<line x1="380.9" y1="387.7" x2="380.9" y2="389.7" stroke="#555555" stroke-width="0.9"/>
<line x1="386.74" y1="387.7" x2="386.74" y2="389.7" stroke="#555555" stroke-width="0.9"/>
<line x1="392.57" y1="387.7" x2="392.57" y2="391.5" stroke="#555555" stroke-width="0.9"/>
<line x1="398.4" y1="387.7" x2="398.4" y2="389.7" stroke="#555555" stroke-width="0.9"/>
<line x1="404.24" y1="387.7" x2="404.24" y2="389.7" stroke="#555555" stroke-width="0.9"/>
<line x1="410.07" y1="387.7" x2="410.07" y2="389.7" stroke="#555555" stroke-width="0.9"/>
<line x1="415.91" y1="387.7" x2="415.91" y2="389.7" stroke="#555555" stroke-width="0.9"/>
<line x1="421.74" y1="387.7" x2="421.74" y2="391.5" stroke="#555555" stroke-width="0.9"/>
<line x1="427.57" y1="387.7" x2="427.57" y2="389.7" stroke="#555555" stroke-width="0.9"/>
<line x1="433.41" y1="387.7" x2="433.41" y2="389.7" stroke="#555555" stroke-width="0.9"/>
<line x1="439.24" y1="387.7" x2="439.24" y2="389.7" stroke="#555555" stroke-width="0.9"/>
<line x1="445.08" y1="387.7" x2="445.08" y2="389.7" stroke="#555555" stroke-width="0.9"/>
<line x1="450.91" y1="387.7" x2="450.91" y2="391.5" stroke="#555555" stroke-width="0.9"/>
<line x1="456.74" y1="387.7" x2="456.74" y2="389.7" stroke="#555555" stroke-width="0.9"/>
<line x1="462.58" y1="387.7" x2="462.58" y2="389.7" stroke="#555555" stroke-width="0.9"/>
<line x1="468.41" y1="387.7" x2="468.41" y2="389.7" stroke="#555555" stroke-width="0.9"/>
<line x1="474.25" y1="387.7" x2="474.25" y2="389.7" stroke="#555555" stroke-width="0.9"/>
<line x1="480.08" y1="387.7" x2="480.08" y2="391.5" stroke="#555555" stroke-width="0.9"/>
<line x1="485.91" y1="387.7" x2="485.91" y2="389.7" stroke="#555555" stroke-width="0.9"/>
<line x1="491.75" y1="387.7" x2="491.75" y2="389.7" stroke="#555555" stroke-width="0.9"/>
<line x1="497.58" y1="387.7" x2="497.58" y2="389.7" stroke="#555555" stroke-width="0.9"/>
<line x1="503.42" y1="387.7" x2="503.42" y2="389.7" stroke="#555555" stroke-width="0.9"/>
<line x1="509.25" y1="387.7" x2="509.25" y2="391.5" stroke="#555555" stroke-width="0.9"/>
<line x1="515.08" y1="387.7" x2="515.08" y2="389.7" stroke="#555555" stroke-width="0.9"/>
<line x1="520.92" y1="387.7" x2="520.92" y2="389.7" stroke="#555555" stroke-width="0.9"/>
<line x1="526.75" y1="387.7" x2="526.75" y2="389.7" stroke="#555555" stroke-width="0.9"/>
<line x1="532.59" y1="387.7" x2="532.59" y2="389.7" stroke="#555555" stroke-width="0.9"/>
<line x1="538.42" y1="387.7" x2="538.42" y2="391.5" stroke="#555555" stroke-width="0.9"/>
<line x1="544.25" y1="387.7" x2="544.25" y2="389.7" stroke="#555555" stroke-width="0.9"/>
<line x1="358.3" y1="362.4" x2="367.9" y2="362.4" stroke="#3e6868" stroke-width="0.9"/>
<path d="M363.1 360.71L364.79 362.4L363.1 364.09L361.41 362.4Z" fill="#111111"/>
<line x1="358.3" y1="368.5" x2="367.9" y2="368.5" stroke="#f04848" stroke-width="0.9"/>
<path d="M363.1 366.18L365.35 369.93L360.85 369.93Z" fill="#fa1010"/>
<line x1="358.3" y1="375" x2="367.9" y2="375" stroke="#55b4f2" stroke-width="0.9"/>
<circle cx="363.1" cy="375" r="1.62" fill="#1290fc"/>
<line x1="358.3" y1="381.7" x2="367.9" y2="381.7" stroke="#f0aa78" stroke-width="0.9"/>
<circle cx="363.1" cy="381.7" r="1.56" fill="#ef8322"/>
<polyline points="363.4,276.8 392.57,275 421.74,272.3 450.91,272.7 480.08,276 509.25,274.7 538.42,274.7" fill="none" stroke="#6e6e6e" stroke-width="1"/>
<polyline points="363.4,316.8 392.57,299.2 421.74,292.6 450.91,303 480.08,308.1 509.25,298 538.42,306.5" fill="none" stroke="#f2ac74" stroke-width="1"/>
<polyline points="363.4,315.5 392.57,306.8 421.74,312.6 450.91,312 480.08,305.6 509.25,311 538.42,315.7" fill="none" stroke="#f23a3a" stroke-width="1"/>
<polyline points="363.4,311.9 392.57,302.6 421.74,312.6 450.91,312.3 480.08,314.8 509.25,311.3 538.42,311.9" fill="none" stroke="#3aa8f5" stroke-width="1"/>
<path d="M363.4 273.3V280.3M362.1 273.3H364.7M362.1 280.3H364.7" stroke="#6a8a8a" stroke-width="0.9" fill="none"/>
<path d="M392.57 271.5V278.5M391.27 271.5H393.87M391.27 278.5H393.87" stroke="#6a8a8a" stroke-width="0.9" fill="none"/>
<path d="M421.74 268.3V276.3M420.44 268.3H423.04M420.44 276.3H423.04" stroke="#6a8a8a" stroke-width="0.9" fill="none"/>
<path d="M450.91 269.2V276.2M449.61 269.2H452.21M449.61 276.2H452.21" stroke="#6a8a8a" stroke-width="0.9" fill="none"/>
<path d="M480.08 272.5V279.5M478.78 272.5H481.38M478.78 279.5H481.38" stroke="#6a8a8a" stroke-width="0.9" fill="none"/>
<path d="M509.25 271.2V278.2M507.95 271.2H510.55M507.95 278.2H510.55" stroke="#6a8a8a" stroke-width="0.9" fill="none"/>
<path d="M538.42 271.2V278.2M537.12 271.2H539.72M537.12 278.2H539.72" stroke="#6a8a8a" stroke-width="0.9" fill="none"/>
<path d="M363.4 312.3V321.3M362.1 312.3H364.7M362.1 321.3H364.7" stroke="#eea060" stroke-width="0.9" fill="none"/>
<path d="M392.57 295.2V303.2M391.27 295.2H393.87M391.27 303.2H393.87" stroke="#eea060" stroke-width="0.9" fill="none"/>
<path d="M421.74 287.6V297.6M420.44 287.6H423.04M420.44 297.6H423.04" stroke="#eea060" stroke-width="0.9" fill="none"/>
<path d="M450.91 299V307M449.61 299H452.21M449.61 307H452.21" stroke="#eea060" stroke-width="0.9" fill="none"/>
<path d="M480.08 304.1V312.1M478.78 304.1H481.38M478.78 312.1H481.38" stroke="#eea060" stroke-width="0.9" fill="none"/>
<path d="M509.25 294V302M507.95 294H510.55M507.95 302H510.55" stroke="#eea060" stroke-width="0.9" fill="none"/>
<path d="M538.42 302.5V310.5M537.12 302.5H539.72M537.12 310.5H539.72" stroke="#eea060" stroke-width="0.9" fill="none"/>
<path d="M363.4 311.5V319.5M362.1 311.5H364.7M362.1 319.5H364.7" stroke="#f05050" stroke-width="0.9" fill="none"/>
<path d="M392.57 302.8V310.8M391.27 302.8H393.87M391.27 310.8H393.87" stroke="#f05050" stroke-width="0.9" fill="none"/>
<path d="M421.74 308.6V316.6M420.44 308.6H423.04M420.44 316.6H423.04" stroke="#f05050" stroke-width="0.9" fill="none"/>
<path d="M450.91 308V316M449.61 308H452.21M449.61 316H452.21" stroke="#f05050" stroke-width="0.9" fill="none"/>
<path d="M480.08 300.6V310.6M478.78 300.6H481.38M478.78 310.6H481.38" stroke="#f05050" stroke-width="0.9" fill="none"/>
<path d="M509.25 307V315M507.95 307H510.55M507.95 315H510.55" stroke="#f05050" stroke-width="0.9" fill="none"/>
<path d="M538.42 311.7V319.7M537.12 311.7H539.72M537.12 319.7H539.72" stroke="#f05050" stroke-width="0.9" fill="none"/>
<path d="M363.4 307.9V315.9M362.1 307.9H364.7M362.1 315.9H364.7" stroke="#40a8f0" stroke-width="0.9" fill="none"/>
<path d="M392.57 298.6V306.6M391.27 298.6H393.87M391.27 306.6H393.87" stroke="#40a8f0" stroke-width="0.9" fill="none"/>
<path d="M421.74 308.1V317.1M420.44 308.1H423.04M420.44 317.1H423.04" stroke="#40a8f0" stroke-width="0.9" fill="none"/>
<path d="M450.91 308.3V316.3M449.61 308.3H452.21M449.61 316.3H452.21" stroke="#40a8f0" stroke-width="0.9" fill="none"/>
<path d="M480.08 310.8V318.8M478.78 310.8H481.38M478.78 318.8H481.38" stroke="#40a8f0" stroke-width="0.9" fill="none"/>
<path d="M509.25 307.3V315.3M507.95 307.3H510.55M507.95 315.3H510.55" stroke="#40a8f0" stroke-width="0.9" fill="none"/>
<path d="M538.42 307.9V315.9M537.12 307.9H539.72M537.12 315.9H539.72" stroke="#40a8f0" stroke-width="0.9" fill="none"/>
<path d="M363.4 274.2L366 276.8L363.4 279.4L360.8 276.8Z" fill="#111111"/>
<path d="M392.57 272.4L395.17 275L392.57 277.6L389.97 275Z" fill="#111111"/>
<path d="M421.74 269.7L424.34 272.3L421.74 274.9L419.14 272.3Z" fill="#111111"/>
<path d="M450.91 270.1L453.51 272.7L450.91 275.3L448.31 272.7Z" fill="#111111"/>
<path d="M480.08 273.4L482.68 276L480.08 278.6L477.48 276Z" fill="#111111"/>
<path d="M509.25 272.1L511.85 274.7L509.25 277.3L506.65 274.7Z" fill="#111111"/>
<path d="M538.42 272.1L541.02 274.7L538.42 277.3L535.82 274.7Z" fill="#111111"/>
<circle cx="363.4" cy="316.8" r="2.4" fill="#ef8322"/>
<circle cx="392.57" cy="299.2" r="2.4" fill="#ef8322"/>
<circle cx="421.74" cy="292.6" r="2.4" fill="#ef8322"/>
<circle cx="450.91" cy="303" r="2.4" fill="#ef8322"/>
<circle cx="480.08" cy="308.1" r="2.4" fill="#ef8322"/>
<circle cx="509.25" cy="298" r="2.4" fill="#ef8322"/>
<circle cx="538.42" cy="306.5" r="2.4" fill="#ef8322"/>
<path d="M363.4 312.4L366.4 317.4L360.4 317.4Z" fill="#fa1010"/>
<path d="M392.57 303.7L395.57 308.7L389.57 308.7Z" fill="#fa1010"/>
<path d="M421.74 309.5L424.74 314.5L418.74 314.5Z" fill="#fa1010"/>
<path d="M450.91 308.9L453.91 313.9L447.91 313.9Z" fill="#fa1010"/>
<path d="M480.08 302.5L483.08 307.5L477.08 307.5Z" fill="#fa1010"/>
<path d="M509.25 307.9L512.25 312.9L506.25 312.9Z" fill="#fa1010"/>
<path d="M538.42 312.6L541.42 317.6L535.42 317.6Z" fill="#fa1010"/>
<circle cx="363.4" cy="311.9" r="2.5" fill="#1290fc"/>
<circle cx="392.57" cy="302.6" r="2.5" fill="#1290fc"/>
<circle cx="421.74" cy="312.6" r="2.5" fill="#1290fc"/>
<circle cx="450.91" cy="312.3" r="2.5" fill="#1290fc"/>
<circle cx="480.08" cy="314.8" r="2.5" fill="#1290fc"/>
<circle cx="509.25" cy="311.3" r="2.5" fill="#1290fc"/>
<circle cx="538.42" cy="311.9" r="2.5" fill="#1290fc"/>
<line x1="352" y1="272.4" x2="545.2" y2="272.4" stroke="#5e5e5e" stroke-width="1"/>
<text x="421.74" y="267.3" font-size="10.6" fill="#ec7a22" stroke="#ec7a22" stroke-width="0.35" text-anchor="middle">*</text>
</g>
<g>
<text transform="translate(4.2 17) scale(0.88 1)" font-size="16.2" fill="#000" stroke="#000" stroke-width="0.35">a</text>
<text transform="translate(57.4 52.4) scale(0.93 1)" font-size="9.7" fill="#1c1c1c" class="t" text-anchor="end">0.0</text>
<text transform="translate(57.4 83.9) scale(0.93 1)" font-size="9.7" fill="#1c1c1c" class="t" text-anchor="end">-0.2</text>
<text transform="translate(57.4 115.4) scale(0.93 1)" font-size="9.7" fill="#1c1c1c" class="t" text-anchor="end">-0.4</text>
<text transform="translate(57.4 146.9) scale(0.93 1)" font-size="9.7" fill="#1c1c1c" class="t" text-anchor="end">-0.6</text>
<text x="72.2" y="178.83" font-size="9.3" fill="#1c1c1c" class="t" text-anchor="middle">0</text>
<text x="101.37" y="178.83" font-size="9.3" fill="#1c1c1c" class="t" text-anchor="middle">5</text>
<text x="130.54" y="178.83" font-size="9.3" fill="#1c1c1c" class="t" text-anchor="middle">10</text>
<text x="159.71" y="178.83" font-size="9.3" fill="#1c1c1c" class="t" text-anchor="middle">15</text>
<text x="188.88" y="178.83" font-size="9.3" fill="#1c1c1c" class="t" text-anchor="middle">20</text>
<text x="218.05" y="178.83" font-size="9.3" fill="#1c1c1c" class="t" text-anchor="middle">25</text>
<text x="247.22" y="178.83" font-size="9.3" fill="#1c1c1c" class="t" text-anchor="middle">30</text>
<text x="159.71" y="194.7" font-size="10.45" fill="#1c1c1c" class="t" text-anchor="middle">Time (min)</text>
<text transform="translate(22.9 96.65) rotate(-90) scale(1 0.87)" font-size="10" fill="#1c1c1c" class="t" text-anchor="middle">IPX</text>
<text transform="translate(37.3 96.85) rotate(-90)" font-size="10.7" fill="#1c1c1c" class="t" text-anchor="middle">[log<tspan font-size="7" dy="2.2">2</tspan><tspan dy="-2.2">[H</tspan><tspan font-size="7.4" dy="-5.4">+</tspan><tspan dy="5.4">]sample/[H</tspan><tspan font-size="7.4" dy="-5.4">+</tspan><tspan dy="5.4">](control)]</tspan></text>
<text x="78.9" y="138.8" font-size="6.6" fill="#1e1e1e" stroke="#1e1e1e" stroke-width="0.08">Control</text>
<text x="78.9" y="145.8" font-size="6.6" fill="#1e1e1e" stroke="#1e1e1e" stroke-width="0.08">Guaifenesin 10 mM</text>
<text x="78.9" y="152.5" font-size="6.6" fill="#1e1e1e" stroke="#1e1e1e" stroke-width="0.08">Guaifenesin 10 mM + eriodictyol 3 µM</text>
<text x="78.9" y="159.5" font-size="6.6" fill="#1e1e1e" stroke="#1e1e1e" stroke-width="0.08">Guaifenesin 10 mM + eriodictyol 30 µM</text>
<text transform="translate(296 16.7) scale(1 1)" font-size="16.2" fill="#000" stroke="#000" stroke-width="0.35">b</text>
<text transform="translate(348.8 50.3) scale(0.93 1)" font-size="9.7" fill="#1c1c1c" class="t" text-anchor="end">0.0</text>
<text transform="translate(348.8 72.8) scale(0.93 1)" font-size="9.7" fill="#1c1c1c" class="t" text-anchor="end">-0.1</text>
<text transform="translate(348.8 95.3) scale(0.93 1)" font-size="9.7" fill="#1c1c1c" class="t" text-anchor="end">-0.2</text>
<text transform="translate(348.8 117.8) scale(0.93 1)" font-size="9.7" fill="#1c1c1c" class="t" text-anchor="end">-0.3</text>
<text transform="translate(348.8 140.3) scale(0.93 1)" font-size="9.7" fill="#1c1c1c" class="t" text-anchor="end">-0.4</text>
<text transform="translate(348.8 162.8) scale(0.93 1)" font-size="9.7" fill="#1c1c1c" class="t" text-anchor="end">-0.5</text>
<text x="363.4" y="178.63" font-size="9.3" fill="#1c1c1c" class="t" text-anchor="middle">0</text>
<text x="392.57" y="178.63" font-size="9.3" fill="#1c1c1c" class="t" text-anchor="middle">5</text>
<text x="421.74" y="178.63" font-size="9.3" fill="#1c1c1c" class="t" text-anchor="middle">10</text>
<text x="450.91" y="178.63" font-size="9.3" fill="#1c1c1c" class="t" text-anchor="middle">15</text>
<text x="480.08" y="178.63" font-size="9.3" fill="#1c1c1c" class="t" text-anchor="middle">20</text>
<text x="509.25" y="178.63" font-size="9.3" fill="#1c1c1c" class="t" text-anchor="middle">25</text>
<text x="538.42" y="178.63" font-size="9.3" fill="#1c1c1c" class="t" text-anchor="middle">30</text>
<text x="450.91" y="195.2" font-size="10.45" fill="#1c1c1c" class="t" text-anchor="middle">Time (min)</text>
<text transform="translate(314.5 96.45) rotate(-90) scale(1 0.87)" font-size="10" fill="#1c1c1c" class="t" text-anchor="middle">IPX</text>
<text transform="translate(328.9 96.9) rotate(-90)" font-size="10.7" fill="#1c1c1c" class="t" text-anchor="middle">[log<tspan font-size="7" dy="2.2">2</tspan><tspan dy="-2.2">[H</tspan><tspan font-size="7.4" dy="-5.4">+</tspan><tspan dy="5.4">]sample/[H</tspan><tspan font-size="7.4" dy="-5.4">+</tspan><tspan dy="5.4">](control)]</tspan></text>
<text x="373.3" y="139.6" font-size="6.6" fill="#1e1e1e" stroke="#1e1e1e" stroke-width="0.08">Control</text>
<text x="373.3" y="145.9" font-size="6.6" fill="#1e1e1e" stroke="#1e1e1e" stroke-width="0.08">Guaifenesin 10 mM</text>
<text x="373.3" y="152.9" font-size="6.6" fill="#1e1e1e" stroke="#1e1e1e" stroke-width="0.08">Guaifenesin 10 mM + Hesperitin 3 µM</text>
<text x="373.3" y="160.1" font-size="6.6" fill="#1e1e1e" stroke="#1e1e1e" stroke-width="0.08">Guaifenesin 10 mM + Hesperitin 30 µM</text>
<text transform="translate(4.2 240.5) scale(1 1)" font-size="16.2" fill="#000" stroke="#000" stroke-width="0.35">c</text>
<text transform="translate(57.6 260.3) scale(0.93 1)" font-size="9.7" fill="#1c1c1c" class="t" text-anchor="end">0.2</text>
<text transform="translate(57.6 288.4) scale(0.93 1)" font-size="9.7" fill="#1c1c1c" class="t" text-anchor="end">0.0</text>
<text transform="translate(57.6 316.5) scale(0.93 1)" font-size="9.7" fill="#1c1c1c" class="t" text-anchor="end">-0.2</text>
<text transform="translate(57.6 344.6) scale(0.93 1)" font-size="9.7" fill="#1c1c1c" class="t" text-anchor="end">-0.4</text>
<text transform="translate(57.6 372.7) scale(0.93 1)" font-size="9.7" fill="#1c1c1c" class="t" text-anchor="end">-0.6</text>
<text x="72.25" y="402.23" font-size="9.3" fill="#1c1c1c" class="t" text-anchor="middle">0</text>
<text x="101.35" y="402.23" font-size="9.3" fill="#1c1c1c" class="t" text-anchor="middle">5</text>
<text x="130.45" y="402.23" font-size="9.3" fill="#1c1c1c" class="t" text-anchor="middle">10</text>
<text x="159.55" y="402.23" font-size="9.3" fill="#1c1c1c" class="t" text-anchor="middle">15</text>
<text x="188.65" y="402.23" font-size="9.3" fill="#1c1c1c" class="t" text-anchor="middle">20</text>
<text x="217.75" y="402.23" font-size="9.3" fill="#1c1c1c" class="t" text-anchor="middle">25</text>
<text x="246.85" y="402.23" font-size="9.3" fill="#1c1c1c" class="t" text-anchor="middle">30</text>
<text x="159.55" y="418.2" font-size="10.45" fill="#1c1c1c" class="t" text-anchor="middle">Time (min)</text>
<text transform="translate(22.9 320.45) rotate(-90) scale(1 0.87)" font-size="10" fill="#1c1c1c" class="t" text-anchor="middle">IPX</text>
<text transform="translate(37.5 320.15) rotate(-90)" font-size="10.7" fill="#1c1c1c" class="t" text-anchor="middle">[log<tspan font-size="7" dy="2.2">2</tspan><tspan dy="-2.2">[H</tspan><tspan font-size="7.4" dy="-5.4">+</tspan><tspan dy="5.4">]sample/[H</tspan><tspan font-size="7.4" dy="-5.4">+</tspan><tspan dy="5.4">](control)]</tspan></text>
<text x="85.9" y="361.3" font-size="6.6" fill="#1e1e1e" stroke="#1e1e1e" stroke-width="0.08">Control</text>
<text x="85.9" y="368.6" font-size="6.6" fill="#1e1e1e" stroke="#1e1e1e" stroke-width="0.08">Guaifenesin 10 mM</text>
<text x="85.9" y="375.8" font-size="6.6" fill="#1e1e1e" stroke="#1e1e1e" stroke-width="0.08">Guaifenesin 10 mM + Phyllodulcin 3 µM</text>
<text x="85.9" y="383.2" font-size="6.6" fill="#1e1e1e" stroke="#1e1e1e" stroke-width="0.08">Guaifenesin 10 mM + Phyllodulcin. 30 µM</text>
<text transform="translate(295.7 240) scale(1 1)" font-size="16.2" fill="#000" stroke="#000" stroke-width="0.35">d</text>
<text transform="translate(348.8 275.4) scale(0.93 1)" font-size="9.7" fill="#1c1c1c" class="t" text-anchor="end">0.0</text>
<text transform="translate(348.8 306.9) scale(0.93 1)" font-size="9.7" fill="#1c1c1c" class="t" text-anchor="end">-0.2</text>
<text transform="translate(348.8 338.4) scale(0.93 1)" font-size="9.7" fill="#1c1c1c" class="t" text-anchor="end">-0.4</text>
<text transform="translate(348.8 369.9) scale(0.93 1)" font-size="9.7" fill="#1c1c1c" class="t" text-anchor="end">-0.6</text>
<text x="363.4" y="401.73" font-size="9.3" fill="#1c1c1c" class="t" text-anchor="middle">0</text>
<text x="392.57" y="401.73" font-size="9.3" fill="#1c1c1c" class="t" text-anchor="middle">5</text>
<text x="421.74" y="401.73" font-size="9.3" fill="#1c1c1c" class="t" text-anchor="middle">10</text>
<text x="450.91" y="401.73" font-size="9.3" fill="#1c1c1c" class="t" text-anchor="middle">15</text>
<text x="480.08" y="401.73" font-size="9.3" fill="#1c1c1c" class="t" text-anchor="middle">20</text>
<text x="509.25" y="401.73" font-size="9.3" fill="#1c1c1c" class="t" text-anchor="middle">25</text>
<text x="538.42" y="401.73" font-size="9.3" fill="#1c1c1c" class="t" text-anchor="middle">30</text>
<text x="450.91" y="418.2" font-size="10.45" fill="#1c1c1c" class="t" text-anchor="middle">Time (min)</text>
<text transform="translate(314.5 319.6) rotate(-90) scale(1 0.87)" font-size="10" fill="#1c1c1c" class="t" text-anchor="middle">IPX</text>
<text transform="translate(328.9 319.8) rotate(-90)" font-size="10.7" fill="#1c1c1c" class="t" text-anchor="middle">[log<tspan font-size="7" dy="2.2">2</tspan><tspan dy="-2.2">[H</tspan><tspan font-size="7.4" dy="-5.4">+</tspan><tspan dy="5.4">]sample/[H</tspan><tspan font-size="7.4" dy="-5.4">+</tspan><tspan dy="5.4">](control)]</tspan></text>
<text x="372" y="364.8" font-size="6.6" fill="#1e1e1e" stroke="#1e1e1e" stroke-width="0.08">Control</text>
<text x="372" y="370.9" font-size="6.6" fill="#1e1e1e" stroke="#1e1e1e" stroke-width="0.08">Guaifenesin 10 mM</text>
<text x="372" y="377.4" font-size="6.6" fill="#1e1e1e" stroke="#1e1e1e" stroke-width="0.08">Guaifenesin 10 mM + HED 3 µM</text>
<text x="372" y="384.1" font-size="6.6" fill="#1e1e1e" stroke="#1e1e1e" stroke-width="0.08">Guaifenesin 10 mM + HED 30 µM</text>
</g>
</svg></div>
</body></html>
